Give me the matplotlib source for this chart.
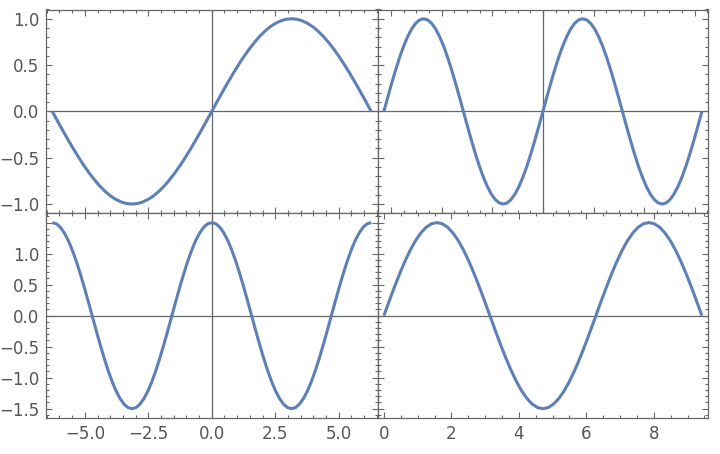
import numpy as np
import matplotlib
matplotlib.use("Agg")
import matplotlib.pyplot as plt
from matplotlib.ticker import MultipleLocator

# curve samples
# top left: x from -2pi to 2pi
tl_y = [0.000, -0.105, -0.208, -0.309, -0.407, -0.500, -0.588, -0.669, -0.743, -0.809,
        -0.866, -0.914, -0.951, -0.978, -0.995, -1.000,
        -0.995, -0.978, -0.951, -0.914, -0.866, -0.809, -0.743, -0.669, -0.588, -0.500,
        -0.407, -0.309, -0.208, -0.105, 0.000,
        0.105, 0.208, 0.309, 0.407, 0.500, 0.588, 0.669, 0.743, 0.809, 0.866,
        0.914, 0.951, 0.978, 0.995, 1.000,
        0.995, 0.978, 0.951, 0.914, 0.866, 0.809, 0.743, 0.669, 0.588, 0.500,
        0.407, 0.309, 0.208, 0.105, 0.000]

# top right: x from -pi to pi
tr_y = [0.000, 0.156, 0.309, 0.454, 0.588, 0.707, 0.809, 0.891, 0.951, 0.988, 1.000,
        0.988, 0.951, 0.891, 0.809, 0.707, 0.588, 0.454, 0.309, 0.156, 0.000,
        -0.156, -0.309, -0.454, -0.588, -0.707, -0.809, -0.891, -0.951, -0.988, -1.000,
        -0.988, -0.951, -0.891, -0.809, -0.707, -0.588, -0.454, -0.309, -0.156,
        0.000, 0.156, 0.309, 0.454, 0.588, 0.707, 0.809, 0.891, 0.951, 0.988, 1.000,
        0.988, 0.951, 0.891, 0.809, 0.707, 0.588, 0.454, 0.309, 0.156, 0.000,
        -0.156, -0.309, -0.454, -0.588, -0.707, -0.809, -0.891, -0.951, -0.988, -1.000,
        -0.988, -0.951, -0.891, -0.809, -0.707, -0.588, -0.454, -0.309, -0.156,
        0.000]

# bottom left: x from -2pi to 2pi
bl_y = [1.500, 1.482, 1.427, 1.336, 1.214, 1.061, 0.882, 0.681, 0.464, 0.235, 0.000,
        -0.235, -0.464, -0.681, -0.882, -1.061, -1.214, -1.336, -1.427, -1.482, -1.500,
        -1.482, -1.427, -1.336, -1.214, -1.061, -0.882, -0.681, -0.464, -0.235, 0.000,
        0.235, 0.464, 0.681, 0.882, 1.061, 1.214, 1.336, 1.427, 1.482,
        1.500, 1.482, 1.427, 1.336, 1.214, 1.061, 0.882, 0.681, 0.464, 0.235, 0.000,
        -0.235, -0.464, -0.681, -0.882, -1.061, -1.214, -1.336, -1.427, -1.482, -1.500,
        -1.482, -1.427, -1.336, -1.214, -1.061, -0.882, -0.681, -0.464, -0.235, 0.000,
        0.235, 0.464, 0.681, 0.882, 1.061, 1.214, 1.336, 1.427, 1.482,
        1.500]

# bottom right: x from 0 to 3pi
br_y = [0.000, 0.235, 0.464, 0.681, 0.882, 1.061, 1.214, 1.336, 1.427, 1.482, 1.500,
        1.482, 1.427, 1.336, 1.214, 1.061, 0.882, 0.681, 0.464, 0.235, 0.000,
        -0.235, -0.464, -0.681, -0.882, -1.061, -1.214, -1.336, -1.427, -1.482, -1.500,
        -1.482, -1.427, -1.336, -1.214, -1.061, -0.882, -0.681, -0.464, -0.235,
        0.000, 0.235, 0.464, 0.681, 0.882, 1.061, 1.214, 1.336, 1.427, 1.482, 1.500,
        1.482, 1.427, 1.336, 1.214, 1.061, 0.882, 0.681, 0.464, 0.235, 0.000]

tl_x = np.linspace(-2*np.pi, 2*np.pi, len(tl_y))
tr_x = np.linspace(-np.pi, np.pi, len(tr_y))
bl_x = np.linspace(-2*np.pi, 2*np.pi, len(bl_y))
br_x = np.linspace(0, 3*np.pi, len(br_y))

line_col = '#5e81b5'
frame_col = '#666666'
text_col = '#555555'

plt.rcParams['font.family'] = 'DejaVu Sans'

fig = plt.figure(figsize=(7.2, 4.54), dpi=100)
W, H = 720, 454
def box(x0, y0, x1, y1):
    return [x0 / W, 1 - y1 / H, (x1 - x0) / W, (y1 - y0) / H]

ax_tl = fig.add_axes(box(46, 9.5, 377.5, 213.3))
ax_tr = fig.add_axes(box(377.5, 9.5, 708.3, 213.3))
ax_bl = fig.add_axes(box(46, 213.3, 377.5, 418))
ax_br = fig.add_axes(box(377.5, 213.3, 708.3, 418))

panels = [
    (ax_tl, tl_x, tl_y, 1.1, 2.5, 0.5),
    (ax_tr, tr_x, tr_y, 1.1, 1.0, 0.25),
    (ax_bl, bl_x, bl_y, 1.65, 2.5, 0.5),
    (ax_br, br_x, br_y, 1.65, 2.0, 0.5),
]

for ax, x, y, yr, xmaj, xmin in panels:
    ax.axhline(0, color=frame_col, lw=0.9, zorder=1)
    ax.plot(x, y, color=line_col, lw=2.2, zorder=3, solid_capstyle='butt')
    ax.set_ylim(-yr, yr)
    ax.xaxis.set_major_locator(MultipleLocator(xmaj))
    ax.xaxis.set_minor_locator(MultipleLocator(xmin))
    ax.yaxis.set_minor_locator(MultipleLocator(0.1))
    for s in ax.spines.values():
        s.set_color(frame_col)
        s.set_linewidth(0.9)
    ax.tick_params(which='both', direction='in', top=True, right=True,
                   color=frame_col, width=0.8, labelcolor=text_col,
                   labelsize=12, pad=5)
    ax.tick_params(which='major', length=4.5)
    ax.tick_params(which='minor', length=2.5)

ax_tl.set_xlim(-6.53, 6.53)
ax_bl.set_xlim(-6.53, 6.53)
ax_tr.set_xlim(-np.pi - 0.126, np.pi + 0.126)
ax_br.set_xlim(-0.19, 3*np.pi + 0.19)

# vertical axis lines
ax_tl.axvline(0, color=frame_col, lw=0.9, zorder=1)
ax_bl.axvline(0, color=frame_col, lw=0.9, zorder=1)
ax_tr.axvline(0, color=frame_col, lw=0.9, zorder=1)

for ax in (ax_tl, ax_tr):
    ax.set_yticks([-1.0, -0.5, 0.0, 0.5, 1.0])
    ax.set_yticklabels(['\u22121.0', '\u22120.5', '0.0', '0.5', '1.0'])
for ax in (ax_bl, ax_br):
    ax.set_yticks([-1.5, -1.0, -0.5, 0.0, 0.5, 1.0, 1.5])
    ax.set_yticklabels(['\u22121.5', '\u22121.0', '\u22120.5', '0.0', '0.5', '1.0', ''])

ax_tl.tick_params(labelbottom=False)
ax_tr.tick_params(labelbottom=False, labelleft=False)
ax_br.tick_params(labelleft=False)

ax_bl.set_xticks([-5.0, -2.5, 0.0, 2.5, 5.0])
ax_bl.set_xticklabels(['\u22125.0', '\u22122.5', '0.0', '2.5', '5.0'])
ax_br.set_xticks([0, 2, 4, 6, 8])

fig.savefig('out.png', dpi=100)
